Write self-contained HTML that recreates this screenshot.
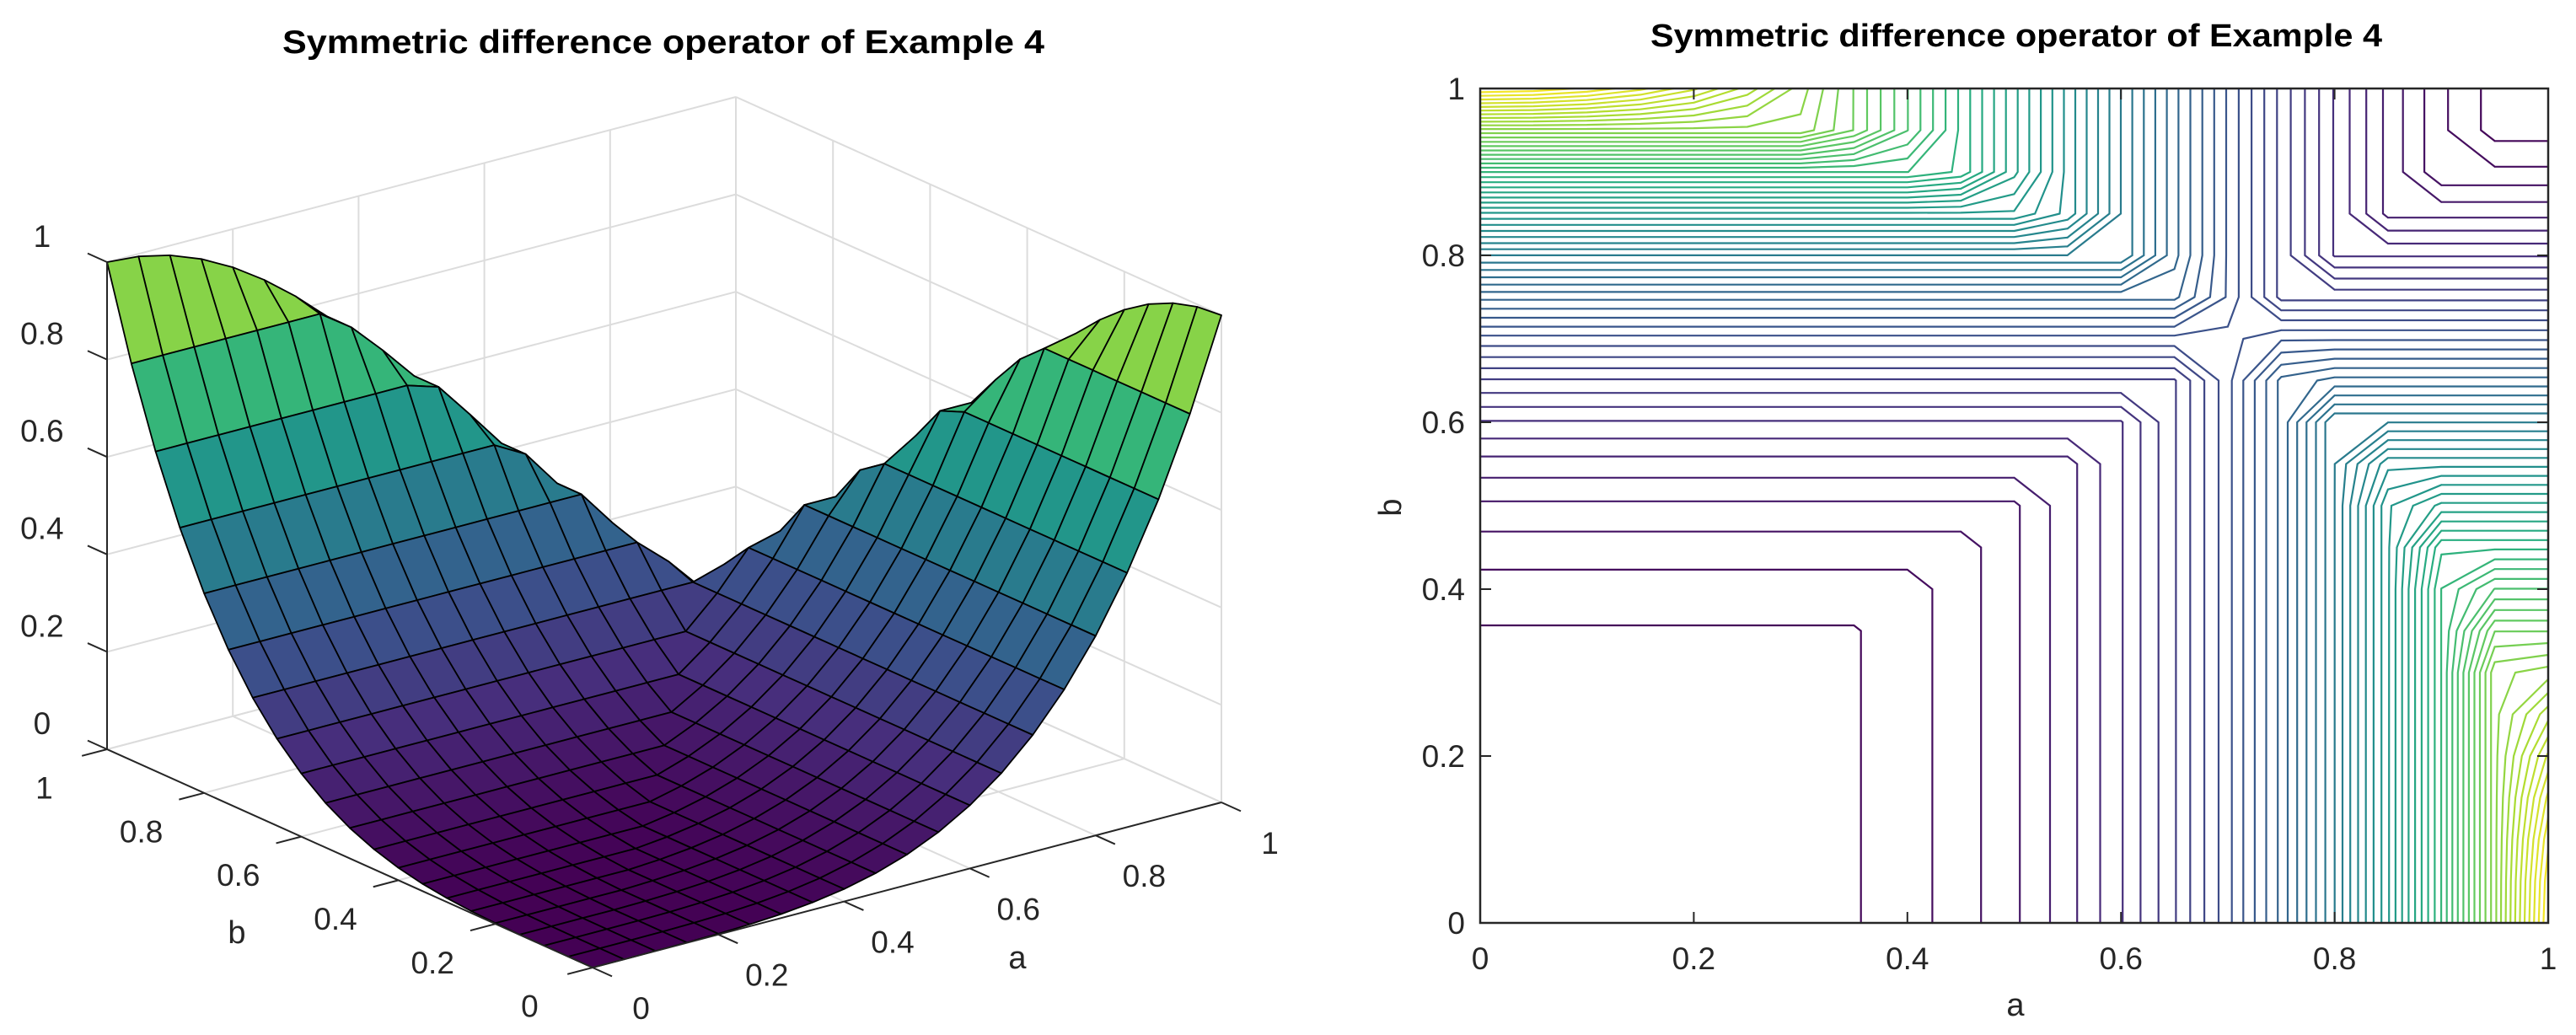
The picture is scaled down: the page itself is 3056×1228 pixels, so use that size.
<!DOCTYPE html>
<html><head><meta charset="utf-8"><style>
html,body{margin:0;padding:0;background:#fff;}
svg{display:block;font-family:"Liberation Sans",Arial,sans-serif;}
</style></head><body>
<svg id="fig" xmlns="http://www.w3.org/2000/svg" width="3056" height="1228" viewBox="0 0 3056 1228">
<rect width="3056" height="1228" fill="#fff"/>
<g id="surfPanel">
<text x="787" y="63" font-size="39" font-weight="bold" text-anchor="middle" textLength="904" lengthAdjust="spacingAndGlyphs" fill="#000">Symmetric difference operator of Example 4</text>
<g id="grid3d"></g>
<g id="faces"></g>
<g id="axes3d"></g>
<text x="281" y="1119" font-size="38" text-anchor="middle" fill="#262626">b</text>
<text x="1207" y="1149" font-size="38" text-anchor="middle" fill="#262626">a</text>
</g>
<g id="contPanel">
<text x="2392" y="55" font-size="38" font-weight="bold" text-anchor="middle" textLength="868" lengthAdjust="spacingAndGlyphs" fill="#000">Symmetric difference operator of Example 4</text>
<g id="contours"></g>
<g id="axes2d"></g>
<text x="2391" y="1205" font-size="38" text-anchor="middle" fill="#262626">a</text>
<text x="1662" y="602" font-size="38" text-anchor="middle" fill="#262626" transform="rotate(-90 1662 602)">b</text>
</g>
</svg>
<script>
// ---- data ----
const aGrid = [0,0.05,0.1,0.15,0.2,0.25,0.3,0.35,0.4,0.45,0.5,0.55,0.6,0.65,0.7,0.75,0.8,0.85,0.9,0.95,1];
const bGrid = [0,0.05,0.1,0.15,0.2,0.25,0.3,0.35,0.4,0.45,0.5,0.55,0.6,0.65,0.7,0.75,0.8,0.85,0.9,0.95,1];
const negation = [1,0.9987,0.995,0.9887,0.9798,0.9682,0.9539,0.9367,0.9165,0.893,0.866,0.8352,0.8,0.7599,0.7141,0.6614,0.6,0.5268,0.4359,0.3122,0];
const exponent = [4];
const axisTicks = [0,0.2,0.4,0.6,0.8,1];
const tickLabels = ["0","0.2","0.4","0.6","0.8","1"];
const levelCount = [60];
const viridisStops = ["#440154","#472d7b","#3b528b","#2c728e","#21918c","#28ae80","#5ec962","#addc30","#fde725"];

// ---- grid values ----
const Z = [];
for (let j = 0; j < bGrid.length; j++) {
  const row = [];
  for (let i = 0; i < aGrid.length; i++) {
    const v = Math.max(Math.min(aGrid[i], negation[j]), Math.min(bGrid[j], negation[i]));
    row.push(Math.pow(v, exponent[0]));
  }
  Z.push(row);
}
const levels = [];
for (let k = 1; k <= levelCount[0]; k++) levels.push(k / (levelCount[0] + 1));

function hex(h){return [parseInt(h.substr(1,2),16),parseInt(h.substr(3,2),16),parseInt(h.substr(5,2),16)];}
function viridis(t){
  t=Math.max(0,Math.min(1,t));
  const n=viridisStops.length-1, p=t*n, k=Math.min(n-1,Math.floor(p)), f=p-k;
  const c0=hex(viridisStops[k]), c1=hex(viridisStops[k+1]);
  return "rgb("+c0.map((c,m)=>Math.round(c+(c1[m]-c)*f)).join(",")+")";
}
const NS="http://www.w3.org/2000/svg";
function mk(tag, attrs, parent){const e=document.createElementNS(NS,tag);for(const k in attrs)e.setAttribute(k,attrs[k]);parent.appendChild(e);return e;}

// ---- 3D projection ----
function P(a,b,z){return [703 + a*746 - b*576, 1148 - a*196 - b*259 - z*578];}
function line3(g,p,q,col,w,name){
  const A=P(...p), B=P(...q);
  const l=mk("line",{x1:A[0],y1:A[1],x2:B[0],y2:B[1],stroke:col,"stroke-width":w},g);
  
  
}
const g3=document.getElementById("grid3d");
const gc="#dcdcdc";
axisTicks.forEach(t=>{
  line3(g3,[t,1,0],[t,1,1],gc,2,'grid-line');
  line3(g3,[0,1,t],[1,1,t],gc,2,'grid-line');
  line3(g3,[1,t,0],[1,t,1],gc,2,'grid-line');
  line3(g3,[1,0,t],[1,1,t],gc,2,'grid-line');
  line3(g3,[t,0,0],[t,1,0],gc,2,'grid-line');
  line3(g3,[0,t,0],[1,t,0],gc,2,'grid-line');
});

// faces, painter's order
const gf=document.getElementById("faces");
const faces=[];
for(let j=0;j<bGrid.length-1;j++)for(let i=0;i<aGrid.length-1;i++){
  const ca=(aGrid[i]+aGrid[i+1])/2, cb=(bGrid[j]+bGrid[j+1])/2;
  const cz=(Z[j][i]+Z[j][i+1]+Z[j+1][i]+Z[j+1][i+1])/4;
  faces.push({i,j,d:0.574*ca+0.744*cb-0.222*cz});
}
faces.sort((p,q)=>q.d-p.d);
faces.forEach(f=>{
  const i=f.i,j=f.j;
  const pts=[P(aGrid[i],bGrid[j],Z[j][i]),P(aGrid[i+1],bGrid[j],Z[j][i+1]),P(aGrid[i+1],bGrid[j+1],Z[j+1][i+1]),P(aGrid[i],bGrid[j+1],Z[j+1][i])];
  const e=mk("polygon",{points:pts.map(p=>p[0].toFixed(1)+","+p[1].toFixed(1)).join(" "),fill:viridis(Z[j][i]),stroke:"#000","stroke-width":1.8,"stroke-linejoin":"round"},gf);
  
  
});

// 3D axes
const ga=document.getElementById("axes3d");
const ac="#262626";
line3(ga,[0,1,0],[0,1,1],ac,2,'z-axis-line');
line3(ga,[0,0,0],[0,1,0],ac,2,'b-axis-line');
line3(ga,[0,0,0],[1,0,0],ac,2,'a-axis-line');
axisTicks.forEach((t,k)=>{
  line3(ga,[0,1,t],[0,1.04,t],ac,2,'z-tick');
  line3(ga,[0,t,0],[-0.04,t,0],ac,2,'b-tick');
  line3(ga,[t,0,0],[t,-0.04,0],ac,2,'a-tick');
  let p=P(0,1.12,t);
  let e=mk("text",{x:p[0]-8,y:p[1]+13,"font-size":37,"text-anchor":"middle",fill:ac},ga);
  e.textContent=tickLabels[k];
  
  
  p=P(-0.1,t,0);
  e=mk("text",{x:p[0],y:p[1]+39,"font-size":37,"text-anchor":"middle",fill:ac},ga);
  e.textContent=tickLabels[k];
  
  
  p=P(t,-0.1,0);
  e=mk("text",{x:p[0],y:p[1]+35,"font-size":37,"text-anchor":"middle",fill:ac},ga);
  e.textContent=tickLabels[k];
  
  
});

// ---- contour plot ----
const X0=1756,X1=3023,Y0=1095,Y1=105;
function X(a){return X0+a*(X1-X0);}
function Y(b){return Y0-b*(Y0-Y1);}
const gcn=document.getElementById("contours");
levels.forEach(L=>{
  let d="";
  for(let j=0;j<bGrid.length-1;j++)for(let i=0;i<aGrid.length-1;i++){
    const c=[[i,j],[i+1,j],[i+1,j+1],[i,j+1]];
    const pts=[];
    for(let e=0;e<4;e++){
      const p=c[e],q=c[(e+1)%4];
      const vp=Z[p[1]][p[0]], vq=Z[q[1]][q[0]];
      if((vp<L)!==(vq<L)){
        const t=(L-vp)/(vq-vp);
        const a=aGrid[p[0]]+(aGrid[q[0]]-aGrid[p[0]])*t;
        const b=bGrid[p[1]]+(bGrid[q[1]]-bGrid[p[1]])*t;
        pts.push([X(a),Y(b)]);
      }
    }
    for(let k=0;k+1<pts.length;k+=2)
      d+="M"+pts[k][0].toFixed(1)+" "+pts[k][1].toFixed(1)+"L"+pts[k+1][0].toFixed(1)+" "+pts[k+1][1].toFixed(1);
  }
  if(d){
    const e=mk("path",{d:d,fill:"none",stroke:viridis(L),"stroke-width":2.2,"stroke-linecap":"round"},gcn);
    
    
  }
});
const g2=document.getElementById("axes2d");
const box=mk("rect",{x:X0,y:Y1,width:X1-X0,height:Y0-Y1,fill:"none",stroke:ac,"stroke-width":2.5},g2);


axisTicks.forEach((t,k)=>{
  const tl=13;
  [[X(t),Y0,X(t),Y0-tl],[X(t),Y1,X(t),Y1+tl],[X0,Y(t),X0+tl,Y(t)],[X1,Y(t),X1-tl,Y(t)]].forEach(s=>{
    const l=mk("line",{x1:s[0],y1:s[1],x2:s[2],y2:s[3],stroke:ac,"stroke-width":2},g2);
    
    
  });
  let e=mk("text",{x:X(t),y:Y0+55,"font-size":37,"text-anchor":"middle",fill:ac},g2);
  e.textContent=tickLabels[k];
  
  
  e=mk("text",{x:X0-18,y:Y(t)+13,"font-size":37,"text-anchor":"end",fill:ac},g2);
  e.textContent=tickLabels[k];
  
  
});
</script>
</body></html>
